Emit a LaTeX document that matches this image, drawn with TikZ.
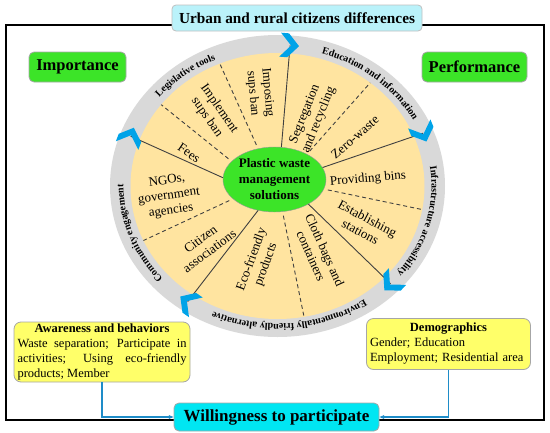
\documentclass[tikz,border=0pt]{standalone}
\usepackage{fontspec}
\setmainfont{Liberation Serif}
\usepackage{xcolor}
\usetikzlibrary{
  arrows.meta,
  calc,
  shapes.geometric,
  decorations.text
}

\definecolor{ringgray}{RGB}{217, 217, 217}
\definecolor{wedgeyellow}{RGB}{255, 228, 160}
\definecolor{hubgreen}{RGB}{60, 228, 40}
\definecolor{chevblue}{RGB}{0, 163, 232}
\definecolor{titlecyan}{RGB}{186, 242, 250}
\definecolor{willcyan}{RGB}{0, 230, 242}
\definecolor{noteyellow}{RGB}{255, 255, 105}
\definecolor{linkblue}{RGB}{30, 140, 200}

\newcommand{\ringfont}{\fontsize{10}{10}\selectfont\bfseries}

\begin{document}
\begin{tikzpicture}[x=1pt, y=-1pt,
  wedge/.style={font=\fontsize{13}{15}\selectfont, align=center, inner sep=0pt},
  spoke/.style={draw=black!75, line width=0.9pt},
  divider/.style={draw=black!75, line width=0.9pt, dash pattern=on 4pt off 3pt, shorten <=4pt},
  roundbox/.style={draw=black!35, rounded corners=5pt, line width=0.8pt, inner sep=0pt},
  greenbox/.style={roundbox, fill=hubgreen, minimum height=30pt, font=\fontsize{16.5}{18}\selectfont\bfseries},
  notebox/.style={roundbox, fill=noteyellow, rounded corners=7pt, inner xsep=3.5pt, inner ysep=1pt, font=\fontsize{12.5}{15}\selectfont},
  link/.style={draw=linkblue, line width=1.2pt, -{Stealth[length=5pt, width=4pt]}}
]
\useasboundingbox (0,0) rectangle (550,432);

% outer frame
\draw[line width=2pt] (6,25) rectangle (544,420);

% wheel
\coordinate (ringc) at (277.5,186);
\fill[ringgray] (ringc) ellipse [x radius=167.5, y radius=151];
\fill[wedgeyellow] (ringc) ellipse [x radius=147, y radius=133];

\node[ellipse, draw=black!40, fill=hubgreen, minimum width=103pt, minimum height=65pt,
      inner sep=0pt, align=center, font=\fontsize{13}{16}\selectfont\bfseries]
  (hub) at (274.5,179.5) {Plastic waste\\management\\solutions};

\foreach \hubang/\rimang/\nm in {78/-85.4/A, 14/-22/B, 324/43.9/C, 242/124.9/D, 178/200.7/E} {
  \coordinate (rim\nm) at ($(ringc)+(\rimang:157 and 141)$);
  \draw[spoke] (hub.\hubang) -- (rim\nm);
}
\foreach \hubang/\rimang [count=\i] in {118/-113.1, 157/-142.3, 38/-50.9, 349/10.2, 284/79.6, 205/155.8} {
  \coordinate (cut\i) at ($(ringc)+(\rimang:147 and 133)$);
  \draw[divider] (hub.\hubang) -- (cut\i);
}

% chevrons
\foreach \rimang/\nm in {-85.4/A, -22/B, 43.9/C, 124.9/D, 200.7/E}
  \fill[chevblue, shift={(rim\nm)}, rotate={-(\rimang)-90}]
    (-10,-12) -- (-2,-12) -- (9,0) -- (-2,12) -- (-10,12) -- (1,0) -- cycle;

% ring labels
\path[decorate, decoration={text along path, text align=center, text={|\ringfont|Legislative tools}}]
  ($(ringc)+(-168:154 and 138)$) arc[start angle=-168, end angle=-88, x radius=154, y radius=138];
\path[decorate, decoration={text along path, text align=center, text={|\ringfont|Education and information}}]
  ($(ringc)+(-90:154 and 138)$) arc[start angle=-90, end angle=-10, x radius=154, y radius=138];
\path[decorate, decoration={text along path, text align=center, text={|\ringfont|Infrastructure accessibility}}]
  ($(ringc)+(-25:154 and 138)$) arc[start angle=-25, end angle=55, x radius=154, y radius=138];
\path[decorate, decoration={text along path, text align=center, text={|\ringfont|Environmentally friendly alternative}}]
  ($(ringc)+(35:154 and 138)$) arc[start angle=35, end angle=135, x radius=154, y radius=138];
\path[decorate, decoration={text along path, text align=center, text={|\ringfont|Community engagement}}]
  ($(ringc)+(120:154 and 138)$) arc[start angle=120, end angle=200, x radius=154, y radius=138];

% wedge labels
\node[wedge, rotate=-55] (implement) at (213,113) {Implement\\sups ban};
\node[wedge, rotate=-85] (imposing) at (260,93) {Imposing\\sups ban};
\node[wedge, rotate=-34] (fees) at (189,153) {Fees};
\node[wedge, rotate=68] (segregation) at (312,117) {Segregation\\and recycling};
\node[wedge, rotate=41] (zerowaste) at (355,137) {Zero-waste};
\node[wedge, rotate=5] (bins) at (368,179) {Providing bins};
\node[wedge, rotate=-28] (stations) at (364,225) {Establishing\\stations};
\node[wedge, rotate=-66] (cloth) at (318,253) {Cloth bags and\\containers};
\node[wedge, rotate=70] (eco) at (259,262) {Eco-friendly\\products};
\node[wedge, rotate=37] (citizen) at (205,245) {Citizen\\associations};
\node[wedge, rotate=8] (ngos) at (169,196) {NGOs,\\government\\agencies};

% boxes
\node[roundbox, fill=titlecyan, draw=black!25, rounded corners=4pt, minimum width=250pt, minimum height=26pt,
      font=\fontsize{15.3}{18}\selectfont\bfseries] (urban) at (297,18) {Urban and rural citizens differences};
\node[greenbox, minimum width=97pt] (importance) at (77.5,67) {Importance};
\node[greenbox, minimum width=105pt] (performance) at (474.5,67) {Performance};
\node[notebox, text width=169pt, align=justify, minimum height=60pt] (aware) at (102,352) {%
  \makebox[\hsize]{\textbf{Awareness and behaviors}}\par
  Waste separation; Participate in\linebreak activities; Using eco-friendly\linebreak products; Member};
\node[notebox, text width=157pt, align=left, minimum height=51pt] (demo) at (448.5,344) {%
  \makebox[\hsize]{\textbf{Demographics}}\\
  Gender; Education\\Employment; Residential area};
\node[roundbox, fill=willcyan, minimum width=205pt, minimum height=28pt,
      font=\fontsize{17}{20}\selectfont\bfseries] (will) at (276.5,417) {Willingness to participate};

\draw[link] (aware.south) |- (will.west);
\draw[link] (demo.south) |- (will.east);
\end{tikzpicture}
\end{document}
